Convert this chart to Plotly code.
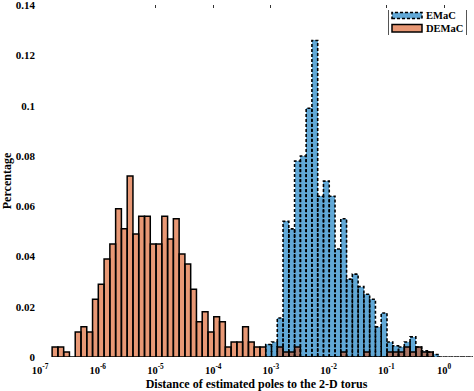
import plotly.graph_objects as go

# ---------------- data ----------------
# histogram bins are 0.1 decade wide; first bin's left edge at log10(x) = -6.79
first_edge_log10 = -6.79
bin_width_log10 = 0.1

# DEMaC probabilities, starting at bin 0
demac_values = [
    0.004, 0.004, 0.002, 0.0, 0.010, 0.012, 0.010, 0.023, 0.029, 0.039,
    0.045, 0.059, 0.051, 0.072, 0.049, 0.056, 0.056, 0.045, 0.045, 0.056,
    0.047, 0.055, 0.041, 0.037, 0.027, 0.014, 0.018, 0.010, 0.016, 0.014,
    0.004, 0.006, 0.006, 0.012, 0.006, 0.004, 0.004, 0.0, 0.0, 0.004,
    0.002, 0.002, 0.004, 0.0, 0.0, 0.0, 0.0, 0.0, 0.0, 0.0,
    0.002, 0.0, 0.0, 0.0, 0.002, 0.0, 0.0, 0.0, 0.002, 0.002,
    0.002, 0.004, 0.002, 0.004, 0.002, 0.002,
]
demac_first_bin = 0

# EMaC probabilities, starting at bin 37
emac_values = [
    0.005, 0.006, 0.0155, 0.054, 0.051, 0.078, 0.080, 0.099, 0.126, 0.064,
    0.070, 0.064, 0.043, 0.055, 0.031, 0.033, 0.028, 0.025, 0.023, 0.012,
    0.0175, 0.006, 0.0045, 0.004, 0.006, 0.008, 0.004, 0.0025, 0.002, 0.001,
    0.0, 0.0, 0.0, 0.0, 0.0, 0.0, 0.0,
]
emac_first_bin = 37

x_tick_vals = [-7, -6, -5, -4, -3, -2, -1, 0]
x_tick_text = ["10<sup>-7</sup>", "10<sup>-6</sup>", "10<sup>-5</sup>", "10<sup>-4</sup>",
               "10<sup>-3</sup>", "10<sup>-2</sup>", "10<sup>-1</sup>", "10<sup>0</sup>"]
top_tick_vals = [-5, -4, -3, -1, 0]
y_tick_vals = [0, 0.02, 0.04, 0.06, 0.08, 0.10, 0.12, 0.14]
y_tick_text = ["0", "0.02", "0.04", "0.06", "0.08", "0.1", "0.12", "0.14"]

series_names = ["EMaC", "DEMaC"]

# ---------------- helpers ----------------
def bin_geometry(first_bin, values):
    lefts = [first_edge_log10 + bin_width_log10 * (first_bin + i) for i in range(len(values))]
    centers = [l + bin_width_log10 / 2 for l in lefts]
    return lefts, centers

def outline(first_bin, values):
    lefts, _ = bin_geometry(first_bin, values)
    xs, ys = [], []
    for l, h in zip(lefts, values):
        r = l + bin_width_log10
        xs += [l, l, r, r, l, None]
        ys += [0, h, h, 0, 0, None]
    return xs, ys

BLUE_FILL = "rgba(0,114,189,0.62)"
ORANGE_FILL = "rgba(217,83,25,0.6)"
FONT = "Liberation Serif"

fig = go.Figure()

_, emac_centers = bin_geometry(emac_first_bin, emac_values)
_, demac_centers = bin_geometry(demac_first_bin, demac_values)

fig.add_trace(go.Bar(x=emac_centers, y=emac_values, width=bin_width_log10,
                     marker=dict(color=BLUE_FILL, line=dict(width=0)),
                     name=series_names[0], showlegend=False))
fig.add_trace(go.Bar(x=demac_centers, y=demac_values, width=bin_width_log10,
                     marker=dict(color=ORANGE_FILL, line=dict(width=0)),
                     name=series_names[1], showlegend=False))

ex, ey = outline(emac_first_bin, emac_values)
fig.add_trace(go.Scatter(x=ex, y=ey, mode="lines", hoverinfo="skip",
                         line=dict(color="black", width=1.6, dash="3px,2px"),
                         showlegend=False))
dx, dy = outline(demac_first_bin, demac_values)
fig.add_trace(go.Scatter(x=dx, y=dy, mode="lines", hoverinfo="skip",
                         line=dict(color="black", width=1.5),
                         showlegend=False))
# empty helper trace so the top (mirrored) tick axis is rendered
fig.add_trace(go.Scatter(x=[None], y=[None], xaxis="x2", mode="lines",
                         hoverinfo="skip", showlegend=False))

# ---------------- layout ----------------
W, H = 474, 391
ML, MR, MT, MB = 40, 1, 5, 34
PW, PH = W - ML - MR, H - MT - MB

def px_x(p):
    return (p - ML) / PW

def px_y(p):
    return (H - MB - p) / PH

shapes = [
    # legend patches
    dict(type="rect", xref="paper", yref="paper",
         x0=px_x(392), x1=px_x(422), y0=px_y(18.5), y1=px_y(12.5),
         fillcolor=BLUE_FILL, line=dict(color="black", width=1.6, dash="3px,2px")),
    dict(type="rect", xref="paper", yref="paper",
         x0=px_x(392), x1=px_x(422), y0=px_y(32), y1=px_y(24.5),
         fillcolor=ORANGE_FILL, line=dict(color="black", width=1.5)),
    # legend frame (vertical edges)
    dict(type="line", xref="paper", yref="paper",
         x0=px_x(388.5), x1=px_x(388.5), y0=px_y(10), y1=px_y(35),
         line=dict(color="#555", width=1)),
    dict(type="line", xref="paper", yref="paper",
         x0=px_x(466.5), x1=px_x(466.5), y0=px_y(10), y1=px_y(35),
         line=dict(color="#555", width=1)),
]
annotations = [
    dict(xref="paper", yref="paper", x=px_x(424), y=px_y(15.5), text="<b>EMaC</b>",
         showarrow=False, xanchor="left", yanchor="middle",
         font=dict(family=FONT, size=10.5, color="black")),
    dict(xref="paper", yref="paper", x=px_x(424), y=px_y(28.5), text="<b>DEMaC</b>",
         showarrow=False, xanchor="left", yanchor="middle",
         font=dict(family=FONT, size=10.5, color="black")),
]

fig.update_layout(
    width=W, height=H,
    margin=dict(l=ML, r=MR, t=MT, b=MB, autoexpand=False),
    paper_bgcolor="white", plot_bgcolor="white",
    barmode="overlay", bargap=0,
    shapes=shapes, annotations=annotations,
    xaxis=dict(range=[-7, 0.5], tickmode="array", tickvals=x_tick_vals,
               ticktext=["<b>" + t + "</b>" for t in x_tick_text],
               showgrid=False, zeroline=False, showline=False, ticks="",
               ticklabelstandoff=5,
               tickfont=dict(family=FONT, size=10.5, color="black"),
               title=dict(text="<b>Distance of estimated poles to the 2-D torus</b>",
                          font=dict(family=FONT, size=12, color="black"), standoff=5),
               automargin=False),
    xaxis2=dict(range=[-7, 0.5], overlaying="x", side="top", anchor="y",
                tickmode="array", tickvals=top_tick_vals, showticklabels=False,
                ticks="inside", ticklen=3, tickwidth=1, tickcolor="#333",
                showgrid=False, zeroline=False, showline=False),
    yaxis=dict(range=[0, 0.1401], tickmode="array", tickvals=y_tick_vals,
               ticktext=["<b>" + t + "</b>" for t in y_tick_text],
               showgrid=False, zeroline=False, showline=False, ticks="",
               ticklabelstandoff=4, ticklabeloverflow="allow",
               tickfont=dict(family=FONT, size=11, color="black"),
               title=dict(text="<b>Percentage</b>",
                          font=dict(family=FONT, size=12, color="black"), standoff=2),
               automargin=False),
    showlegend=False,
)

fig.write_html("out.html", config={"displayModeBar": False},
               post_script="document.body.style.margin='0px';")
